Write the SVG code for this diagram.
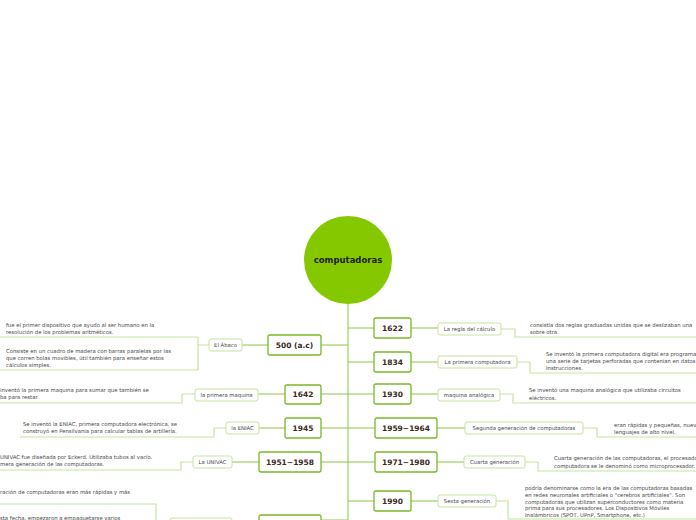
<svg xmlns="http://www.w3.org/2000/svg" width="696" height="520" viewBox="0 0 696 520">
<style>
.n{fill:#fff;stroke:#79b928;stroke-width:1.3}
.s{fill:#fff;stroke:#c6e3a0;stroke-width:1}
.c{fill:none;stroke:#8cc63f;stroke-width:1}
.l{fill:none;stroke:#c6e3a0;stroke-width:1.2}
.nt{font-family:Verdana,"DejaVu Sans",sans-serif;font-size:7.5px;font-weight:bold;fill:#3a2a1a;text-anchor:middle}
.st{font-family:Verdana,"DejaVu Sans",sans-serif;font-size:5.3px;fill:#444;text-anchor:middle}
.tt{font-family:Verdana,"DejaVu Sans",sans-serif;font-size:5.3px;fill:#444}
</style>
<rect width="696" height="520" fill="#fff"/>
<g id="connectors">
<path class="c" d="M348 304V520"/>
<path class="c" d="M348 328H374M411 328H438M348 362H374M411 362H438M348 394H374M411 394H438M348 428H375M437 428H465M348 462H375M437 462H464M348 501H374M411 501H438"/>
<path class="c" d="M348 345H321M268 345H242M348 394H321M285 394H258M348 428H321M285 428H259M348 462H321M259 462H232M348 520H321"/>
<path class="l" d="M501 329H515V337H696M517 362H530V373H696M500 394H513V403H696M583 428H597V437H696M525 462H538V471H696M496 501H508V519H696"/>
<path class="l" d="M209 345H198M198 337H0M198 337V370H0M195 394H182V403H0M226 428H214V437H20M193 462H181V470H0M0 504H156V520"/>
</g>
<g id="center"><circle cx="348" cy="260" r="44" fill="#86c800"/><text x="348" y="263" class="nt" style="font-size:8.5px;fill:#222">computadoras</text></g>
<g id="n1622"><rect class="n" x="374" y="318" width="37" height="20" rx="2"/><text class="nt" x="392.5" y="331">1622</text>
<rect class="s" x="438" y="323" width="63" height="12" rx="2"/><text class="st" x="469.5" y="331">La regla del cálculo</text>
<text class="tt" x="530" y="327">consistía dos reglas graduadas unidas que se deslizaban una</text><text class="tt" x="530" y="334">sobre otra.</text></g>
<g id="n1834"><rect class="n" x="374" y="352" width="37" height="20" rx="2"/><text class="nt" x="392.5" y="365">1834</text>
<rect class="s" x="438" y="356" width="79" height="12" rx="2"/><text class="st" x="477.5" y="364">La primera computadora</text>
<text class="tt" x="546" y="356">Se inventó la primera computadora digital era programada por</text><text class="tt" x="546" y="363">una serie de tarjetas perforadas que contenían en datos</text><text class="tt" x="546" y="370">Instrucciones.</text></g>
<g id="n1930"><rect class="n" x="374" y="384" width="37" height="20" rx="2"/><text class="nt" x="392.5" y="397">1930</text>
<rect class="s" x="438" y="389" width="62" height="12" rx="2"/><text class="st" x="469" y="397">maquina analógica</text>
<text class="tt" x="529" y="392">Se inventó una maquina analógica que utilizaba circuitos</text><text class="tt" x="529" y="400">eléctricos.</text></g>
<g id="n1959"><rect class="n" x="375" y="418" width="62" height="20" rx="2"/><text class="nt" x="406" y="431">1959−1964</text>
<rect class="s" x="465" y="422" width="118" height="12" rx="2"/><text class="st" x="524" y="430">Segunda generación de computadoras</text>
<text class="tt" x="614" y="427">eran rápidas y pequeñas, nuevos</text><text class="tt" x="614" y="434">lenguajes de alto nivel.</text></g>
<g id="n1971"><rect class="n" x="375" y="452" width="62" height="20" rx="2"/><text class="nt" x="406" y="465">1971−1980</text>
<rect class="s" x="464" y="456" width="61" height="12" rx="2"/><text class="st" x="494.5" y="464">Cuarta generación</text>
<text class="tt" x="554" y="460">Cuarta generación de las computadoras, el procesador de la</text><text class="tt" x="554" y="468">computadora se le denominó como microprocesador.</text></g>
<g id="n1990"><rect class="n" x="374" y="491" width="37" height="20" rx="2"/><text class="nt" x="392.5" y="504">1990</text>
<rect class="s" x="438" y="495" width="58" height="12" rx="2"/><text class="st" x="467" y="503">Sexta generación</text>
<text class="tt" x="525" y="490">podría denominarse como la era de las computadoras basadas</text><text class="tt" x="525" y="497">en redes neuronales artificiales o "cerebros artificiales". Son</text><text class="tt" x="525" y="504">computadoras que utilizan superconductores como materia</text><text class="tt" x="525" y="510">prima para sus procesadores. Los Dispositivos Móviles</text><text class="tt" x="525" y="517">Inalámbricos (SPOT, UPnP, Smartphone, etc.)</text></g>
<g id="n500"><rect class="n" x="268" y="335" width="53" height="20" rx="2"/><text class="nt" x="294.5" y="348">500 (a.c)</text>
<rect class="s" x="209" y="339" width="33" height="12" rx="2"/><text class="st" x="225.5" y="347">El Ábaco</text>
<text class="tt" x="6" y="327">fue el primer dispositivo que ayudo al ser humano en la</text><text class="tt" x="6" y="334">resolución de los problemas aritméticos.</text>
<text class="tt" x="6" y="353">Consiste en un cuadro de madera con barras paralelas por las</text><text class="tt" x="6" y="360">que corren bolas movibles, útil también para enseñar estos</text><text class="tt" x="6" y="367">cálculos simples.</text></g>
<g id="n1642"><rect class="n" x="285" y="385" width="36" height="19" rx="2"/><text class="nt" x="303" y="397">1642</text>
<rect class="s" x="195" y="389" width="63" height="12" rx="2"/><text class="st" x="226.5" y="397">la primera maquina</text>
<text class="tt" x="0" y="392">inventó la primera maquina para sumar que también se</text><text class="tt" x="0" y="399">ba para restar.</text></g>
<g id="n1945"><rect class="n" x="285" y="418" width="36" height="20" rx="2"/><text class="nt" x="303" y="431">1945</text>
<rect class="s" x="226" y="422" width="33" height="12" rx="2"/><text class="st" x="242.5" y="430">la ENIAC</text>
<text class="tt" x="23" y="426">Se inventó la ENIAC, primera computadora electrónica, se</text><text class="tt" x="23" y="433">construyó en Pensilvania para calcular tablas de artillería.</text></g>
<g id="n1951"><rect class="n" x="259" y="452" width="62" height="20" rx="2"/><text class="nt" x="290" y="465">1951−1958</text>
<rect class="s" x="193" y="456" width="39" height="12" rx="2"/><text class="st" x="212.5" y="464">La UNIVAC</text>
<text class="tt" x="0" y="459">UNIVAC fue diseñada por Eckerd. Utilizaba tubos al vacío.</text><text class="tt" x="0" y="466">mera generación de las computadoras.</text></g>
<g id="nbottom"><rect class="n" x="259" y="515" width="62" height="20" rx="2"/>
<rect class="s" x="170" y="518" width="62" height="12" rx="2"/>
<text class="tt" x="0" y="494">ración de computadoras eran más rápidas y más</text><text class="tt" x="0" y="520">sta fecha, empezaron a empaquetarse varios</text></g>
</svg>
